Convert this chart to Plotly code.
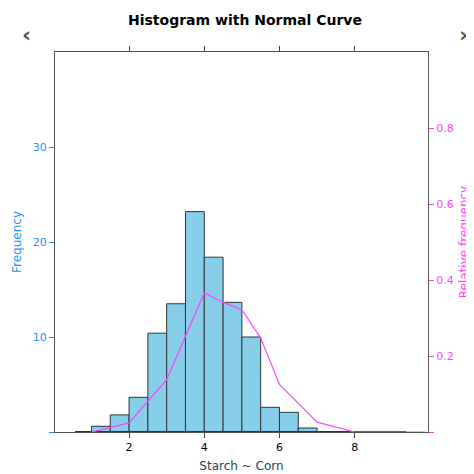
import plotly.graph_objects as go

# histogram bins (Starch ~ Corn), width 0.5
bin_left = [1.0, 1.5, 2.0, 2.5, 3.0, 3.5, 4.0, 4.5, 5.0, 5.5, 6.0, 6.5]
freq = [0.6, 1.8, 3.65, 10.4, 13.5, 23.2, 18.4, 13.65, 10.0, 2.6, 2.07, 0.42]

# relative frequency curve
curve_x = [1, 2, 3, 4, 4.5, 5, 5.5, 6, 7, 8, 9, 9.87]
curve_y = [0.0, 0.024, 0.138, 0.366, 0.341, 0.322, 0.247, 0.125, 0.026, 0.0, 0.0, 0.0]

# dark baseline segment
base_x = [0.56, 9.37]
base_y = [0, 0]

fig = go.Figure()
fig.add_trace(go.Bar(
    x=[b + 0.25 for b in bin_left], y=freq, width=0.5,
    marker=dict(color="#87ceeb", line=dict(color="#333333", width=1)),
    showlegend=False,
))
fig.add_trace(go.Scatter(x=base_x, y=base_y, mode="lines",
                         line=dict(color="#333333", width=2), showlegend=False))
fig.add_trace(go.Scatter(x=curve_x, y=curve_y, mode="lines", yaxis="y2",
                         line=dict(color="#ff44ff", width=1.2), showlegend=False))

fig.update_layout(
    width=474, height=474,
    margin=dict(l=47, r=54, t=44, b=50),
    paper_bgcolor="white", plot_bgcolor="white",
    font=dict(family="DejaVu Sans", size=11),
    title=dict(text="<b>Histogram with Normal Curve</b>", x=0.5, xanchor="center",
               y=0.985, yanchor="top", font=dict(size=14, color="black")),
    xaxis=dict(range=[0.03, 9.95], tickvals=[2, 4, 6, 8], ticks="outside", ticklen=5,
               showgrid=False, zeroline=False, showline=True, linecolor="#555555",
               mirror="ticks", automargin=False,
               title=dict(text="Starch ~ Corn", font=dict(size=12), standoff=8),
               tickfont=dict(color="black")),
    yaxis=dict(range=[0, 40], tickvals=[0, 10, 20, 30], ticktext=["", "10", "20", "30"],
               ticks="outside", ticklen=5, tickcolor="#1e90ff", automargin=False,
               showgrid=False, zeroline=False, showline=True, linecolor="#555555",
               tickfont=dict(color="#1e90ff"),
               title=dict(text="Frequency", font=dict(color="#1e90ff", size=12), standoff=8)),
    yaxis2=dict(range=[0, 1.0], overlaying="y", side="right", automargin=False,
                tickvals=[0, 0.2, 0.4, 0.6, 0.8], ticktext=["", "0.2", "0.4", "0.6", "0.8"],
                ticks="outside", ticklen=5, tickcolor="#ff44ff",
                showgrid=False, zeroline=False, showline=True, linecolor="#555555",
                tickfont=dict(color="#ff44ff"),
                title=dict(text="Relative frequency", font=dict(color="#ff44ff", size=12), standoff=6)),
    annotations=[
        dict(text="<b>‹</b>", x=0.0, y=1.0, xref="paper", yref="paper", xshift=-35, yshift=32,
             showarrow=False, font=dict(size=22, color="#555555")),
        dict(text="<b>›</b>", x=1.0, y=1.0, xref="paper", yref="paper", xshift=42, yshift=32,
             showarrow=False, font=dict(size=22, color="#555555")),
    ],
)

fig.write_html("out.html")
